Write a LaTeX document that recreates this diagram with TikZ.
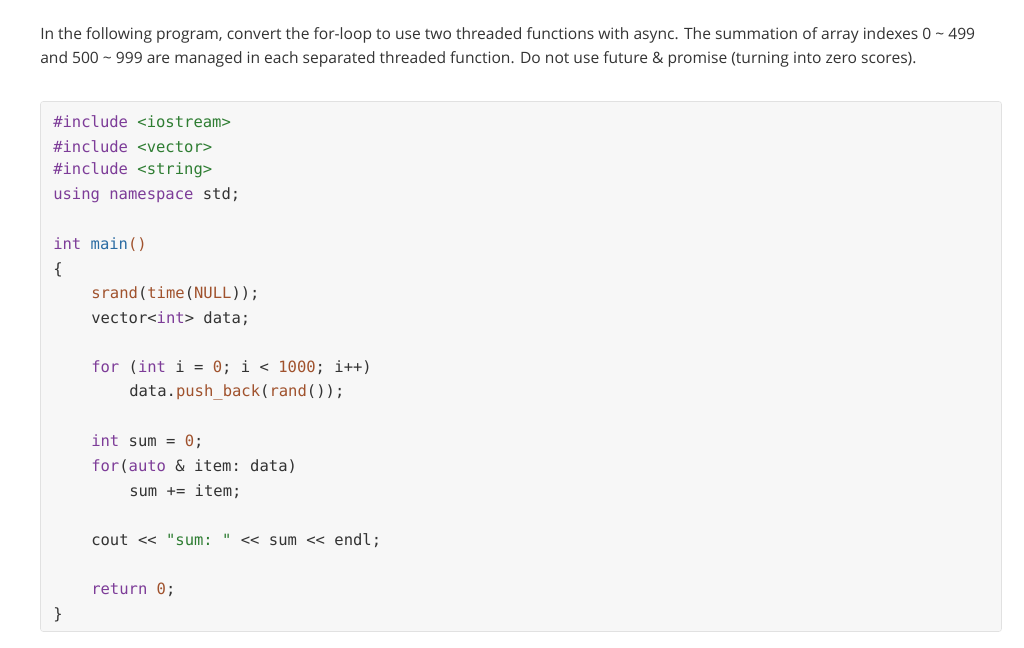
\documentclass[tikz,border=0pt]{standalone}
\usepackage{fontspec}
\setmainfont{Open Sans}
\setmonofont{DejaVu Sans Mono}
\definecolor{kw}{HTML}{7D3C98}
\definecolor{str}{HTML}{2E7D32}
\definecolor{num}{HTML}{A0522D}
\definecolor{fn}{HTML}{2B6CA3}
\definecolor{txt}{HTML}{333333}
\definecolor{boxbg}{HTML}{F7F7F7}
\definecolor{boxln}{HTML}{E1E1E1}
\newcommand{\K}[1]{\textcolor{kw}{#1}}
\newcommand{\Sg}[1]{\textcolor{str}{#1}}
\newcommand{\N}[1]{\textcolor{num}{#1}}
\newcommand{\F}[1]{\textcolor{fn}{#1}}
\begin{document}
\begin{tikzpicture}[x=0.75pt,y=-0.75pt,
  para/.style={anchor=west,inner sep=0,text=txt,font=\fontsize{11.7}{14}\selectfont},
  code/.style={anchor=west,inner sep=0,text=txt,font=\ttfamily\fontsize{11.65}{14}\selectfont}]
\useasboundingbox[fill=white] (0,0) rectangle (1024,648);
\node[para] (p1) at (40,35.5) {In the following program, convert the for-loop to use two threaded functions with async. The summation of array indexes 0 \textasciitilde{} 499};
\node[para] (p2) at (40,59.5) {and 500 \textasciitilde{} 999 are managed in each separated threaded function. Do not use future \& promise (turning into zero scores).};
\draw[boxln,fill=boxbg,rounded corners=2] (40.5,101.5) rectangle (1001.5,631.5);
\node[code] (c1) at (53,121.5) {\K{\#include} \Sg{<iostream>}};
\node[code] (c2) at (53,146.5) {\K{\#include} \Sg{<vector>}};
\node[code] (c3) at (53,170.5) {\K{\#include} \Sg{<string>}};
\node[code] (c4) at (53,195.5) {\K{using} \K{namespace} std;};
\node[code] (c5) at (53,244.5) {\K{int} \F{main}\N{()}};
\node[code] (c6) at (53,269.5) {\{};
\node[code] (c7) at (91,293.5) {\N{srand}(\N{time}(\N{NULL}));};
\node[code] (c8) at (91,318.5) {vector<\K{int}> data;};
\node[code] (c9) at (91,367.5) {\K{for} (\K{int} i = \N{0}; i < \N{1000}; i++)};
\node[code] (c10) at (129,392.5) {data.\N{push\_back}(\N{rand}());};
\node[code] (c11) at (91,441.5) {\K{int} sum = \N{0};};
\node[code] (c12) at (91,466.5) {\K{for}(\K{auto} \& item: data)};
\node[code] (c13) at (129,491.5) {sum += item;};
\node[code] (c14) at (91,540.5) {cout << \Sg{"sum: "} << sum << endl;};
\node[code] (c15) at (91,589.5) {\K{return} \N{0};};
\node[code] (c16) at (53,614.5) {\}};
\end{tikzpicture}
\end{document}
